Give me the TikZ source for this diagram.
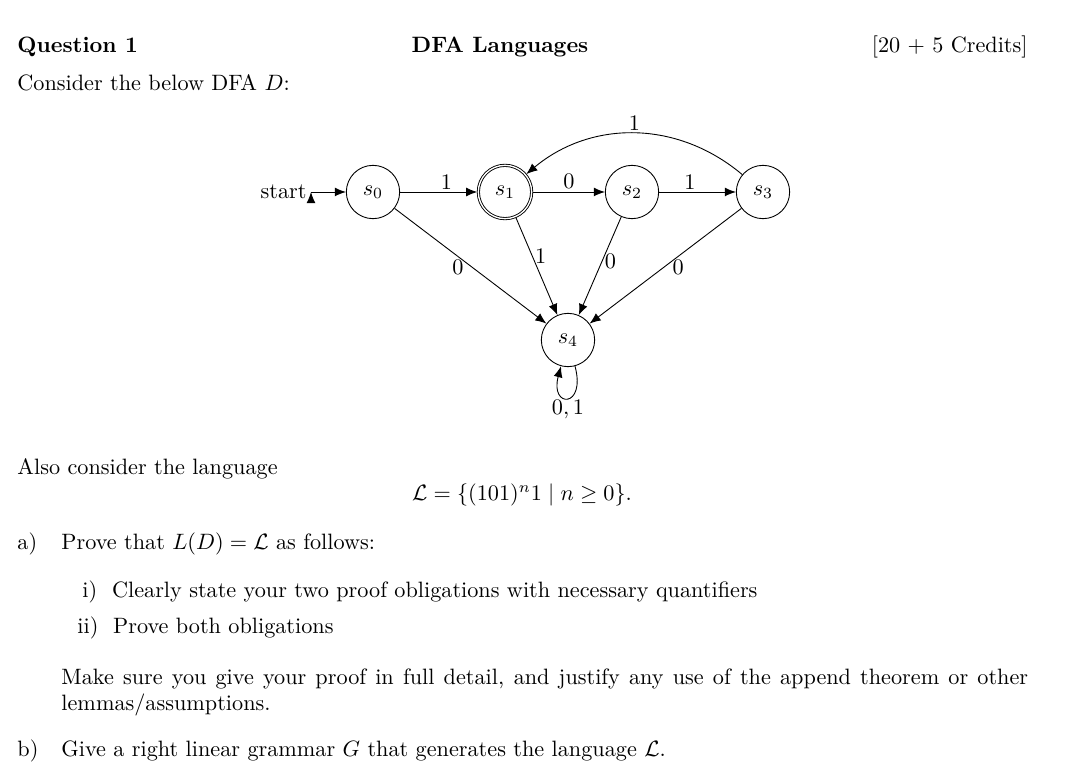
\documentclass[tikz,border=0pt]{standalone}
\usepackage{amsmath,amssymb}
\usetikzlibrary{automata,arrows.meta,positioning}
\begin{document}
\begin{tikzpicture}[x=0.45pt,y=-0.45pt,
  st/.style={state,minimum size=24pt,inner sep=0pt},
  tx/.style={anchor=base west,inner sep=0pt},
  lab/.style={inner sep=1pt,font=\normalsize},
  >={Latex[length=5pt,width=4pt]}]
\useasboundingbox (0,0) rectangle (1070,782);
\node[tx,font=\bfseries] (q) at (17,53) {Question 1};
\node[anchor=base,inner sep=0pt,font=\bfseries] (t) at (500,53) {DFA Languages};
\node[anchor=base east,inner sep=0pt] (c) at (1028,53) {[20 + 5 Credits]};
\node[tx] (cons) at (17,91) {Consider the below DFA $D$:};
\node[st] (s0) at (373,192) {$s_0$};
\node[st,accepting] (s1) at (505,192) {$s_1$};
\node[st] (s2) at (632,192) {$s_2$};
\node[st] (s3) at (763,192) {$s_3$};
\node[st] (s4) at (568,340) {$s_4$};
\node[anchor=east,inner sep=0pt] (start) at (307,192) {start};
\draw[->] (start.east) ++(4,0) coordinate (stc);
\draw[->] (stc) -- (s0);
\draw[->] (s0) -- node[above,lab,pos=0.6] {1} (s1);
\draw[->] (s1) -- node[above,lab] {0} (s2);
\draw[->] (s2) -- node[above,lab,pos=0.4] {1} (s3);
\draw[->] (s3) to[bend right=40] node[above,lab] {1} (s1);
\draw[->] (s0) -- node[lab,pos=0.45,below left=-2pt] {0} (s4);
\draw[->] (s1) -- node[lab,pos=0.4,right] {1} (s4);
\draw[->] (s2) -- node[lab,pos=0.45,right] {0} (s4);
\draw[->] (s3) -- node[lab,pos=0.45,below right=-2pt] {0} (s4);
\draw[->] (s4) to[loop below,looseness=8] node[below,lab] {$0,1$} (s4);
\node[tx] (also) at (17,475) {Also consider the language};
\node[anchor=base,inner sep=0pt] (eq) at (522,501) {$\mathcal{L}=\{(101)^n1\mid n\geq 0\}.$};
\node[tx] (a) at (17,550) {a)};
\node[tx] (a2) at (61,550) {Prove that $L(D)=\mathcal{L}$ as follows:};
\node[tx] (i) at (82,598) {i)\ \ Clearly state your two proof obligations with necessary quantifiers};
\node[tx] (ii) at (77,634) {ii)\ \ Prove both obligations};
\node[anchor=north west,inner sep=0pt,text width=435pt,align=justify] (ms) at (61,668) {Make sure you give your proof in full detail, and justify any use of the append theorem or other lemmas/assumptions.};
\node[tx] (b) at (17,757) {b)};
\node[tx] (b2) at (61,757) {Give a right linear grammar $G$ that generates the language $\mathcal{L}$.};
\end{tikzpicture}
\end{document}
